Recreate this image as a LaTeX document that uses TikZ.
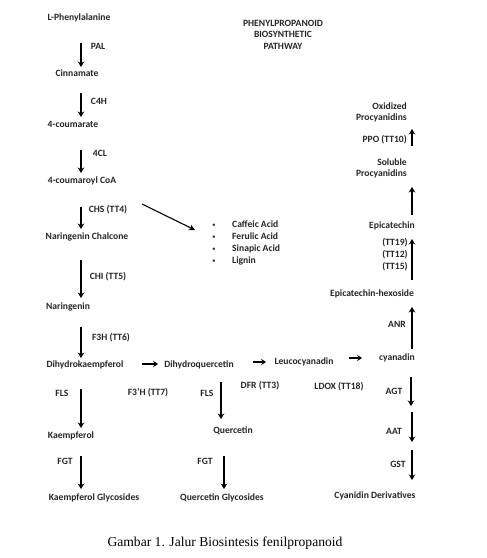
\documentclass[tikz,border=0pt]{standalone}
\usepackage{fontspec}
\setmainfont{Carlito}
\newfontfamily\capfont{Liberation Serif}
\usetikzlibrary{arrows.meta}
\begin{document}
\begin{tikzpicture}[x=1pt,y=-1pt,
  lbl/.style={font=\bfseries\fontsize{9.6}{11}\selectfont, inner sep=0pt, text=black!85},
  arr/.style={line width=1.4pt, -{Stealth[length=5.5pt,width=6.5pt,inset=1.8pt]}},
  harr/.style={line width=1.3pt, -{Stealth[length=5pt,width=6.5pt,inset=1.8pt]}},
  darr/.style={line width=1.1pt, -{Stealth[length=6pt,width=6pt,inset=1.8pt]}}]
\useasboundingbox[fill=white] (0,0) rectangle (487,558);
% main column
\node[lbl] (phe) at (79,18) {L-Phenylalanine};
\node[lbl] (cin) at (77,73) {Cinnamate};
\node[lbl] (cou) at (73,124) {4-coumarate};
\node[lbl] (coa) at (82,181) {4-coumaroyl CoA};
\node[lbl] (nch) at (87,237) {Naringenin Chalcone};
\node[lbl] (nar) at (68,307) {Naringenin};
\node[lbl] (dhk) at (85,365) {Dihydrokaempferol};
\node[lbl] (dhq) at (199,365) {Dihydroquercetin};
\node[lbl] (leu) at (304,362) {Leucocyanadin};
\node[lbl] (cya) at (397,358) {cyanadin};
\node[lbl] (kae) at (71,436) {Kaempferol};
\node[lbl] (kgl) at (94,498) {Kaempferol Glycosides};
\node[lbl] (que) at (233,431) {Quercetin};
\node[lbl] (qgl) at (222,498) {Quercetin Glycosides};
\node[lbl] (cder) at (375,496) {Cyanidin Derivatives};
\node[lbl] (ehx) at (372,294) {Epicatechin-hexoside};
\node[lbl] (epi) at (392,226) {Epicatechin};
\node[lbl, align=right, anchor=east] (sol) at (407,168.5) {Soluble\\Procyanidins};
\node[lbl, align=right, anchor=east] (oxi) at (407,112.5) {Oxidized\\Procyanidins};
\node[lbl, align=center] (title) at (283,34.5) {PHENYLPROPANOID\\[0.5pt]BIOSYNTHETIC\\[0.5pt]PATHWAY};
% side products
\node[lbl, align=left, anchor=west] (side) at (212,243) {%
\makebox[20pt][l]{\raisebox{1pt}{\tiny$\bullet$}}Caffeic Acid\\[1pt]
\makebox[20pt][l]{\raisebox{1pt}{\tiny$\bullet$}}Ferulic Acid\\[1pt]
\makebox[20pt][l]{\raisebox{1pt}{\tiny$\bullet$}}Sinapic Acid\\[1pt]
\makebox[20pt][l]{\raisebox{1pt}{\tiny$\bullet$}}Lignin};
% enzyme labels
\node[lbl] (pal) at (98,46) {PAL};
\node[lbl] (c4h) at (99,101) {C4H};
\node[lbl] (fcl) at (100,153) {4CL};
\node[lbl] (chs) at (108,210) {CHS (TT4)};
\node[lbl] (chi) at (108,277) {CHI (TT5)};
\node[lbl] (f3h) at (111,338) {F3H (TT6)};
\node[lbl] (fls1) at (62,393) {FLS};
\node[lbl] (f3p) at (148,393) {F3'H (TT7)};
\node[lbl] (fls2) at (207,393) {FLS};
\node[lbl] (dfr) at (260,386) {DFR (TT3)};
\node[lbl] (ldox) at (339,387) {LDOX (TT18)};
\node[lbl] (fgt1) at (65,461) {FGT};
\node[lbl] (fgt2) at (205,461) {FGT};
\node[lbl] (agt) at (394,391) {AGT};
\node[lbl] (aat) at (394,431) {AAT};
\node[lbl] (gst) at (398,464) {GST};
\node[lbl] (anr) at (397,324) {ANR};
\node[lbl, align=center] (tts) at (395,255) {(TT19)\\[1pt](TT12)\\[1pt](TT15)};
\node[lbl, anchor=east] (ppo) at (407,140) {PPO (TT10)};
% caption
\node[font=\capfont\fontsize{13.6}{15}\selectfont, inner sep=0pt] (cap) at (225,543) {Gambar 1. Jalur Biosintesis fenilpropanoid};
% arrow end points
\coordinate (a1s) at (81,43);  \coordinate (a1e) at (81,67);
\coordinate (a2s) at (81,93);  \coordinate (a2e) at (81,117);
\coordinate (a3s) at (81,150); \coordinate (a3e) at (81,173);
\coordinate (a4s) at (81,207); \coordinate (a4e) at (81,229);
\coordinate (a5s) at (81,260); \coordinate (a5e) at (81,298);
\coordinate (a6s) at (81,327); \coordinate (a6e) at (81,358);
\coordinate (dgs) at (142,204); \coordinate (dge) at (195,230);
\coordinate (h1s) at (142,364); \coordinate (h1e) at (158,364);
\coordinate (h2s) at (253,362); \coordinate (h2e) at (266,362);
\coordinate (h3s) at (349,358); \coordinate (h3e) at (362,358);
\coordinate (b1s) at (81,389); \coordinate (b1e) at (81,428);
\coordinate (b2s) at (221,382); \coordinate (b2e) at (221,419);
\coordinate (b3s) at (81,456); \coordinate (b3e) at (81,489);
\coordinate (b4s) at (224,456); \coordinate (b4e) at (224,489);
\coordinate (r1s) at (411,377); \coordinate (r1e) at (411,406);
\coordinate (r2s) at (412,412); \coordinate (r2e) at (412,442);
\coordinate (r3s) at (412,450); \coordinate (r3e) at (412,480);
\coordinate (u1s) at (412,349); \coordinate (u1e) at (412,307);
\coordinate (u2s) at (412,280); \coordinate (u2e) at (412,239);
\coordinate (u3s) at (412,215); \coordinate (u3e) at (412,187);
\coordinate (u4s) at (412,146); \coordinate (u4e) at (412,129);
% arrows
\foreach \a in {a1,a2,a3,a4,a5,a6,b1,b2,b3,b4,r1,r2,r3,u1,u2,u3,u4}
  \draw[arr] (\a s) -- (\a e);
\draw[darr] (dgs) -- (dge);
\foreach \a in {h1,h2,h3}
  \draw[harr] (\a s) -- (\a e);
\end{tikzpicture}
\end{document}
